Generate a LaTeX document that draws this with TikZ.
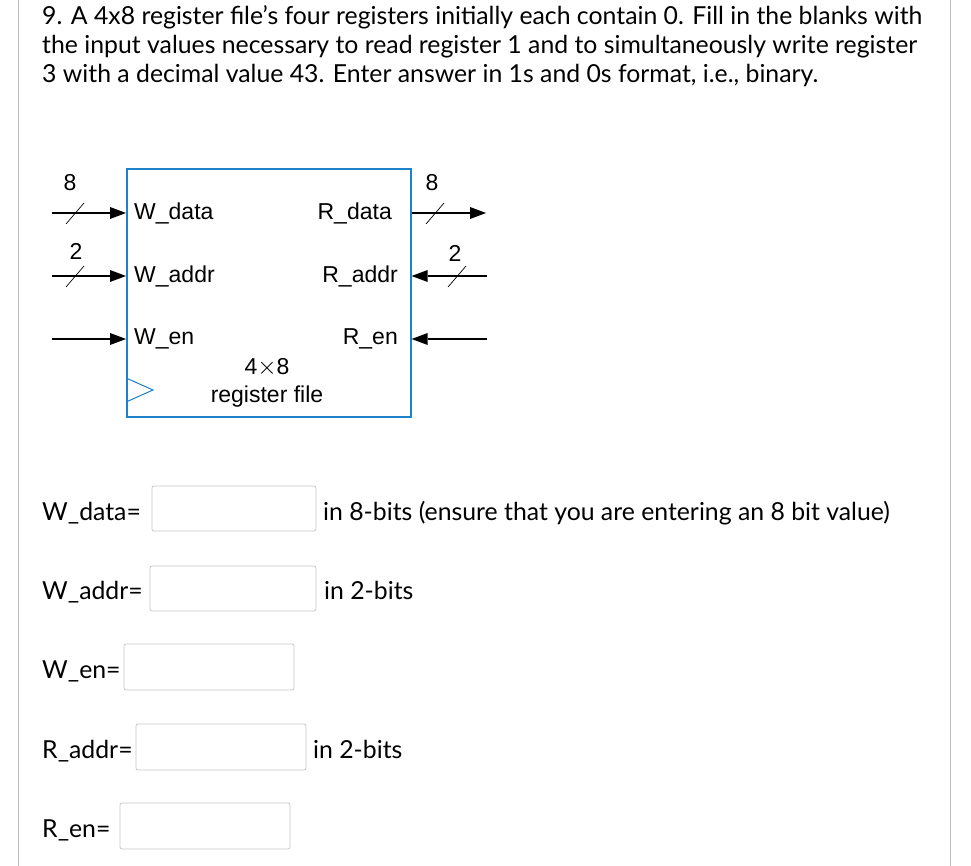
\documentclass[tikz,border=0pt]{standalone}
\usepackage{fontspec}
\setmainfont{Lato}
\newfontfamily\arialf{Liberation Sans}
\usetikzlibrary{arrows.meta}
\definecolor{rfblue}{RGB}{30,130,200}
\begin{document}
\begin{tikzpicture}[x=1pt,y=-1pt,
  q/.style={anchor=base west,inner sep=0pt,font=\fontsize{24.8}{29}\selectfont},
  lbl/.style={inner sep=0pt,font=\arialf\fontsize{23}{27}\selectfont},
  tip/.tip={Stealth[length=16pt,width=12pt,inset=0pt,line width=0pt]},
  bus/.style={line width=2.6pt,-tip},
  wire/.style={line width=1.6pt,-tip},
  sl/.style={line width=0.7pt},
  field/.style={draw=black!22,line width=0.8pt,rounded corners=2pt}]
\useasboundingbox (0,0) rectangle (971,866);
\draw[black!25,line width=0.8pt] (18,0) -- (18,866) (950,0) -- (950,866);
\node[q] (t1) at (42,25) {9. A 4x8 register file’s four registers initially each contain 0. Fill in the blanks with};
\node[q] (t2) at (42,54) {the input values necessary to read register 1 and to simultaneously write register};
\node[q] (t3) at (42,83) {3 with a decimal value 43. Enter answer in 1s and 0s format, i.e., binary.};
% register file box
\node[draw=rfblue,line width=1.6pt,minimum width=284pt,minimum height=248pt,anchor=north west,inner sep=0pt] (rf) at (126,168) {};
\draw[rfblue,line width=1pt] (126,378) -- (153,390) -- (126,402);
\node[lbl,anchor=west] (wd) at (134,213) {W\_data};
\node[lbl,anchor=west] (wa) at (134,276) {W\_addr};
\node[lbl,anchor=west] (we) at (134,339) {W\_en};
\node[lbl,anchor=east] (rd) at (392,213) {R\_data};
\node[lbl,anchor=east] (ra) at (398,276) {R\_addr};
\node[lbl,anchor=east] (re) at (398,339) {R\_en};
\node[lbl] (n48) at (267,368) {4$\times$8};
\node[lbl] (rft) at (267,397) {register file};
\coordinate (a1) at (52,213); \coordinate (a2) at (52,276); \coordinate (a3) at (52,339);
\coordinate (b1) at (486,213); \coordinate (b2) at (487,276); \coordinate (b3) at (487,339);
\draw[bus] (a1) -- (rf.west |- a1);
\draw[bus] (a2) -- (rf.west |- a2);
\draw[wire] (a3) -- (rf.west |- a3);
\draw[bus] (rf.east |- b1) -- (b1);
\draw[bus] (b2) -- (rf.east |- b2);
\draw[wire] (b3) -- (rf.east |- b3);
\draw[sl] (66,224) -- (84,203) (66,287) -- (84,266) (426,224) -- (444,203) (448,287) -- (466,266);
\node[lbl] (l8) at (70,183) {8};
\node[lbl] (l2) at (76,251) {2};
\node[lbl] (r8) at (432,183) {8};
\node[lbl] (r2) at (455,253) {2};
% form
\node[q] (f1) at (42,520) {W\_data=};
\draw[field] (152,486) rectangle (316,531);
\node[q] (f1b) at (323,520) {in 8-bits (ensure that you are entering an 8 bit value)};
\node[q] (f2) at (42,599) {W\_addr=};
\draw[field] (150,566) rectangle (316,611);
\node[q] (f2b) at (324,599) {in 2-bits};
\node[q] (f3) at (42,678) {W\_en=};
\draw[field] (124,644) rectangle (294,690);
\node[q] (f4) at (42,758) {R\_addr=};
\draw[field] (136,724) rectangle (306,770);
\node[q] (f4b) at (313,758) {in 2-bits};
\node[q] (f5) at (42,837) {R\_en=};
\draw[field] (120,803) rectangle (290,849);
\end{tikzpicture}
\end{document}
